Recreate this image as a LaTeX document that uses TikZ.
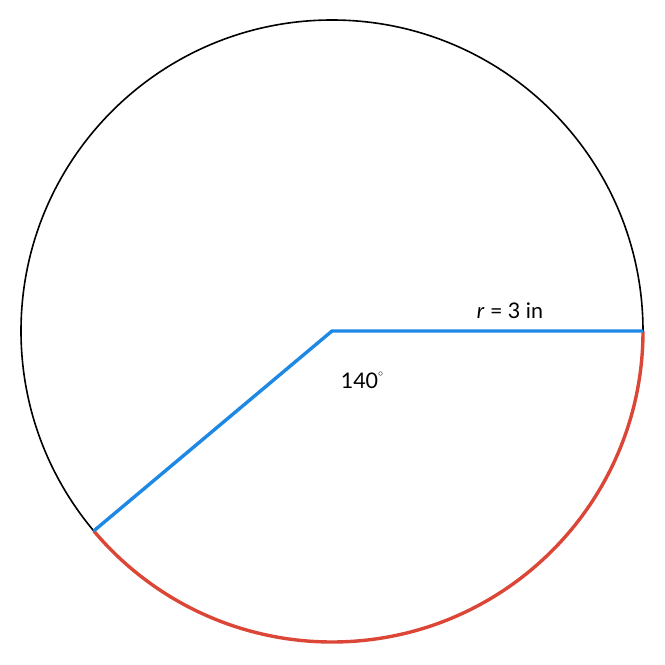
\documentclass[tikz,border=0pt]{standalone}
\usepackage{fontspec}
\setmainfont{Lato}
\usetikzlibrary{calc}
\begin{document}
\begin{tikzpicture}[x=1pt,y=1pt,
  lab/.style={font=\fontsize{21.5}{24}\selectfont, inner sep=0pt},
  radius line/.style={color={rgb,255:red,30;green,136;blue,229}, line width=3.4pt},
  arc line/.style={color={rgb,255:red,220;green,70;blue,55}, line width=3.4pt}]
\useasboundingbox (0,0) rectangle (665,665);
\coordinate (O) at (332,334);
\coordinate (A) at ($(O)+(0:311)$);
\coordinate (B) at ($(O)+(-140:311)$);
\draw[line width=1.6pt] (O) circle[radius=311];
\draw[arc line] (A) arc[start angle=0, end angle=-140, radius=311];
\draw[radius line, line join=miter] (A) -- (O) -- (B);
\node[lab] (r) at (510,354) {\textit{r} = 3 in};
\node[lab] (ang) at (362,285) {140\raisebox{0.55em}{\fontsize{10}{10}\selectfont$\circ$}};
\end{tikzpicture}
\end{document}
